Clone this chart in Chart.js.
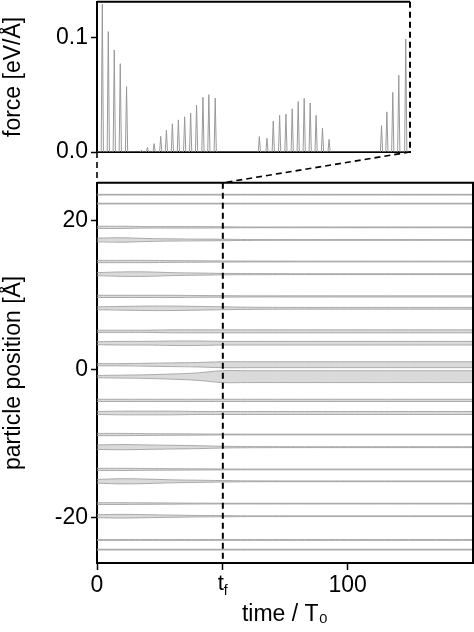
<!DOCTYPE html>
<html>
<head>
<meta charset="utf-8">
<script src="https://cdn.jsdelivr.net/npm/chart.js@4/dist/chart.umd.min.js"></script>
<style>
  body { margin: 0; background: #fff; overflow: hidden; }
  #wrap { position: relative; width: 474px; height: 632px; overflow: hidden; }
  canvas { position: absolute; left: 0; }
  #forceChart { top: -15px; }
  #posChart { top: 166px; }
  #overlay { top: 0; pointer-events: none; }
</style>
</head>
<body>
<div id="wrap">
  <canvas id="forceChart" width="474" height="215"></canvas>
  <canvas id="posChart" width="474" height="466"></canvas>
  <canvas id="overlay" width="474" height="632"></canvas>
</div>
<script>
// force spikes (top panel), time in T0, force in eV/Å
const spikeTimes = [0.85, 1.81, 2.77, 3.73, 4.74,
    7.14, 8.09, 9.16, 10.22, 11.13, 12.09, 13.05, 14.06, 15.02, 15.97, 16.99, 17.94, 18.96,
    26.04, 27.26, 28.27, 29.29, 30.30, 31.31, 32.27, 33.23, 34.19, 35.14, 36.16, 37.22,
    45.63, 46.49, 47.44, 48.40, 49.52];
const spikeForces = [0.129, 0.105, 0.089, 0.077, 0.057,
    0.0015, 0.004, 0.0073, 0.0137, 0.019, 0.0246, 0.028, 0.0307, 0.034, 0.041, 0.0477, 0.050, 0.047,
    0.0135, 0.012, 0.027, 0.032, 0.033, 0.0377, 0.044, 0.0468, 0.0427, 0.032, 0.021, 0.011,
    0.023, 0.035, 0.052, 0.067, 0.0985];
const tf = 50.2;

// particle positions (bottom panel): rest positions [Å] and oscillation half-widths at sample times
const sampleTimes = [0, 10, 20, 30, 40, 50, 60, 80, 100, 120, 150];
const restPositions = [23.5, 22.3, 19.1, 17.4, 14.5, 12.8, 9.8, 8.2, 5.1, 3.5, 0.6,
    -1.0, -4.2, -5.9, -8.8, -10.5, -13.5, -15.1, -18.1, -19.8, -23.0, -24.3];
const amplitudes = [
  [0.05, 0.05, 0.05, 0.05, 0.05, 0.05, 0.05, 0.05, 0.05, 0.05, 0.05],
  [0.05, 0.05, 0.05, 0.05, 0.05, 0.05, 0.05, 0.05, 0.05, 0.05, 0.05],
  [0.15, 0.15, 0.1, 0.1, 0.1, 0.08, 0.05, 0.05, 0.05, 0.05, 0.05],
  [0.25, 0.3, 0.2, 0.15, 0.12, 0.1, 0.06, 0.05, 0.05, 0.05, 0.05],
  [0.15, 0.15, 0.15, 0.12, 0.1, 0.08, 0.06, 0.05, 0.05, 0.05, 0.05],
  [0.2, 0.3, 0.3, 0.2, 0.15, 0.1, 0.08, 0.06, 0.06, 0.06, 0.06],
  [0.15, 0.15, 0.15, 0.15, 0.12, 0.1, 0.08, 0.08, 0.08, 0.08, 0.08],
  [0.2, 0.25, 0.3, 0.3, 0.25, 0.2, 0.15, 0.12, 0.12, 0.12, 0.12],
  [0.15, 0.15, 0.15, 0.2, 0.2, 0.2, 0.2, 0.2, 0.2, 0.2, 0.2],
  [0.2, 0.25, 0.25, 0.3, 0.3, 0.25, 0.25, 0.25, 0.25, 0.25, 0.25],
  [0.15, 0.15, 0.2, 0.25, 0.3, 0.4, 0.4, 0.4, 0.4, 0.4, 0.4],
  [0.15, 0.2, 0.25, 0.35, 0.5, 0.8, 0.8, 0.8, 0.8, 0.8, 0.8],
  [0.15, 0.15, 0.15, 0.15, 0.15, 0.15, 0.15, 0.15, 0.15, 0.15, 0.15],
  [0.2, 0.25, 0.25, 0.25, 0.2, 0.2, 0.2, 0.2, 0.2, 0.2, 0.2],
  [0.15, 0.15, 0.12, 0.1, 0.08, 0.06, 0.05, 0.05, 0.05, 0.05, 0.05],
  [0.3, 0.35, 0.3, 0.25, 0.2, 0.12, 0.08, 0.06, 0.06, 0.06, 0.06],
  [0.15, 0.15, 0.12, 0.1, 0.08, 0.06, 0.05, 0.05, 0.05, 0.05, 0.05],
  [0.25, 0.35, 0.3, 0.2, 0.15, 0.1, 0.06, 0.05, 0.05, 0.05, 0.05],
  [0.12, 0.12, 0.1, 0.08, 0.06, 0.05, 0.05, 0.05, 0.05, 0.05, 0.05],
  [0.2, 0.25, 0.2, 0.15, 0.1, 0.08, 0.05, 0.05, 0.05, 0.05, 0.05],
  [0.05, 0.05, 0.05, 0.05, 0.05, 0.05, 0.05, 0.05, 0.05, 0.05, 0.05],
  [0.05, 0.05, 0.05, 0.05, 0.05, 0.05, 0.05, 0.05, 0.05, 0.05, 0.05]
];

const FONT = 'Liberation Sans, Arial, sans-serif';
Chart.defaults.font.family = FONT;
Chart.defaults.color = '#000';
Chart.defaults.animation = false;

// top: spikes as thin triangles
const spikePts = [{ x: 0, y: 0 }];
spikeTimes.forEach(function (t, i) {
    spikePts.push({ x: t - 0.18, y: 0 }, { x: t, y: spikeForces[i] }, { x: t + 0.18, y: 0 });
});
spikePts.push({ x: tf, y: 0 });

const forceChart = new Chart(document.getElementById('forceChart'), {
    type: 'line',
    data: { datasets: [{ data: spikePts, borderColor: '#999', borderWidth: 1, pointRadius: 0, tension: 0 }] },
    options: {
        responsive: false,
        layout: { padding: { left: 0, right: 64, top: 1, bottom: 0 } },
        plugins: { legend: { display: false }, tooltip: { enabled: false } },
        scales: {
            x: {
                type: 'linear', min: 0, max: tf,
                grid: { display: false },
                border: { color: '#000', width: 2 },
                ticks: { display: false },
                afterFit: function (s) { s.height = 48; }
            },
            y: {
                min: 0, max: 0.131,
                grid: { drawOnChartArea: false, tickLength: 6, color: '#000', tickWidth: 1.5 },
                border: { color: '#000', width: 2 },
                afterBuildTicks: function (s) { s.ticks = [{ value: 0 }, { value: 0.1 }]; },
                ticks: { font: { size: 23 }, padding: 3, callback: function (v) { return v.toFixed(1); } },
                title: { display: true, text: 'force [eV/Å]', font: { size: 23 }, padding: 0 },
                afterFit: function (s) { s.width = 97; }
            }
        }
    },
    plugins: [{
        id: 'frame',
        afterDraw: function (c) {
            const a = c.chartArea, ctx = c.ctx;
            ctx.save();
            ctx.strokeStyle = '#000'; ctx.lineWidth = 2;
            ctx.beginPath();
            ctx.moveTo(a.left, a.top); ctx.lineTo(a.right, a.top);
            ctx.stroke();
            ctx.setLineDash([6, 4]);
            ctx.beginPath();
            ctx.moveTo(a.right, a.top); ctx.lineTo(a.right, a.bottom);
            ctx.stroke();
            ctx.restore();
        }
    }]
});

// bottom: each particle as a shaded oscillation envelope
const posSets = [];
restPositions.forEach(function (p, i) {
    const amp = amplitudes[i];
    posSets.push({
        data: sampleTimes.map(function (t, j) { return { x: t, y: p + amp[j] }; }),
        borderColor: '#999', borderWidth: 0.8, pointRadius: 0, tension: 0.4, fill: false
    });
    posSets.push({
        data: sampleTimes.map(function (t, j) { return { x: t, y: p - amp[j] }; }),
        borderColor: '#999', borderWidth: 0.8, pointRadius: 0, tension: 0.4,
        fill: '-1', backgroundColor: 'rgba(150,150,150,0.35)'
    });
});

const posChart = new Chart(document.getElementById('posChart'), {
    type: 'line',
    data: { datasets: posSets },
    options: {
        responsive: false,
        layout: { padding: { left: 0, right: 1, top: 13, bottom: 0 } },
        plugins: { legend: { display: false }, tooltip: { enabled: false } },
        scales: {
            x: {
                type: 'linear', min: 0, max: 150,
                grid: { drawOnChartArea: false, tickLength: 7, color: '#000', tickWidth: 1.5 },
                border: { color: '#000', width: 2 },
                afterBuildTicks: function (s) { s.ticks = [{ value: 0 }, { value: tf }, { value: 100 }]; },
                ticks: { font: { size: 23 }, padding: 2, maxRotation: 0,
                    callback: function (v) { return v === tf ? '' : String(v); } },
                title: { display: true, text: 'time / T₀', font: { size: 23 }, padding: { top: 1 } },
                afterFit: function (s) { s.height = 69; }
            },
            y: {
                min: -26.1, max: 25.1,
                grid: { drawOnChartArea: false, tickLength: 6, color: '#000', tickWidth: 1.5 },
                border: { color: '#000', width: 2 },
                afterBuildTicks: function (s) { s.ticks = [{ value: -20 }, { value: 0 }, { value: 20 }]; },
                ticks: { font: { size: 23 }, padding: 3 },
                title: { display: true, text: 'particle position [Å]', font: { size: 23 }, padding: 0 },
                afterFit: function (s) { s.width = 97; }
            }
        }
    },
    plugins: [{
        id: 'frameTf',
        afterDraw: function (c) {
            const a = c.chartArea, ctx = c.ctx, xs = c.scales.x;
            const xt = xs.getPixelForValue(tf);
            ctx.save();
            ctx.strokeStyle = '#000'; ctx.lineWidth = 2;
            ctx.beginPath();
            ctx.moveTo(a.left, a.top); ctx.lineTo(a.right, a.top); ctx.lineTo(a.right, a.bottom);
            ctx.stroke();
            ctx.setLineDash([6, 4]);
            ctx.beginPath();
            ctx.moveTo(xt, a.top); ctx.lineTo(xt, a.bottom);
            ctx.stroke();
            ctx.setLineDash([]);
            ctx.fillStyle = '#000';
            ctx.textBaseline = 'top';
            ctx.font = '22px ' + FONT;
            ctx.textAlign = 'right';
            ctx.fillText('t', xt + 1, a.bottom + 10);
            ctx.font = '14px ' + FONT;
            ctx.textAlign = 'left';
            ctx.fillText('f', xt + 1, a.bottom + 21);
            ctx.restore();
        }
    }]
});

// zoom connectors between the panels
(function () {
    const ctx = document.getElementById('overlay').getContext('2d');
    const fa = forceChart.chartArea, pa = posChart.chartArea;
    const offTop = -15, offBottom = 166;
    ctx.strokeStyle = '#000'; ctx.lineWidth = 1.6; ctx.setLineDash([6, 4]);
    ctx.beginPath();
    ctx.moveTo(forceChart.scales.x.getPixelForValue(0), fa.bottom + offTop);
    ctx.lineTo(posChart.scales.x.getPixelForValue(0), pa.top + offBottom);
    ctx.moveTo(forceChart.scales.x.getPixelForValue(tf), fa.bottom + offTop);
    ctx.lineTo(posChart.scales.x.getPixelForValue(tf), pa.top + offBottom);
    ctx.stroke();
})();
</script>
</body>
</html>
